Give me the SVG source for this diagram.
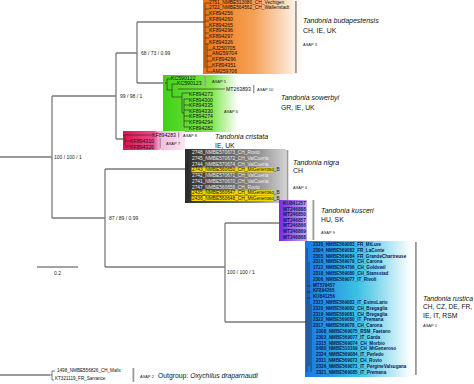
<svg xmlns="http://www.w3.org/2000/svg" width="474" height="384" viewBox="0 0 474 384">
<defs>
<linearGradient id="gOr" x1="0" y1="0" x2="1" y2="0"><stop offset="0" stop-color="#ee7412"/><stop offset="0.5" stop-color="#f6a055"/><stop offset="1" stop-color="#ffffff"/></linearGradient>
<linearGradient id="gGr" x1="0" y1="0" x2="1" y2="0"><stop offset="0" stop-color="#3fd016"/><stop offset="0.65" stop-color="#7fe64c"/><stop offset="1" stop-color="#ffffff"/></linearGradient>
<linearGradient id="gPk" x1="0" y1="0" x2="1" y2="0"><stop offset="0" stop-color="#e0124c"/><stop offset="0.5" stop-color="#ec4c8c"/><stop offset="0.6" stop-color="#f4bade"/><stop offset="1" stop-color="#fbe6f2"/></linearGradient>
<linearGradient id="gGy" x1="0" y1="0" x2="1" y2="0"><stop offset="0" stop-color="#2c2c2c"/><stop offset="0.7" stop-color="#8c8c8c"/><stop offset="1" stop-color="#d2d2d2"/></linearGradient>
<linearGradient id="gPu" x1="0" y1="0" x2="1" y2="0"><stop offset="0" stop-color="#7a28e6"/><stop offset="1" stop-color="#c9a4f6"/></linearGradient>
<linearGradient id="gBl" x1="0" y1="0" x2="1" y2="0"><stop offset="0" stop-color="#1a76e0"/><stop offset="0.5" stop-color="#3cc2e4"/><stop offset="1" stop-color="#ffffff"/></linearGradient>
</defs>
<style>
text{font-family:"Liberation Sans",Arial,sans-serif;}
.br{fill:none;stroke:#7a7a7a;stroke-width:1.3;}
.in{fill:none;stroke:#222;stroke-width:0.6;}
.bar{fill:#9a9a9a;}
.sup{font-size:5px;fill:#222;}
.sp{font-size:7px;font-style:italic;fill:#111;}
.ct{font-size:6.8px;fill:#111;}
.asap{font-size:4px;fill:#222;}
.lb{font-size:5.2px;fill:#111;}
.lw{font-size:4.8px;fill:#eee;}
.ly{font-size:4.8px;fill:#222;}
.lbl{font-size:4.6px;fill:#0a1a50;font-weight:bold;}
</style>

<g id="connectors">
<path class="br" d="M0 157H52M52 96V218M52 96H116M116 53V139M116 53H137M137 22V83M137 22H205M137 83H165M116 139H123M52 218H105M105 169V267M105 169H185M105 267H225M225 223V322M225 223H279M225 322H305M0 375H50"/>
</g>

<g id="support-labels">
<text class="sup" x="141" y="55">68 / 73 / 0.99</text>
<text class="sup" x="120" y="98">99 / 98 / 1</text>
<text class="sup" x="54" y="159">100 / 100 / 1</text>
<text class="sup" x="109" y="220">87 / 89 / 0.99</text>
<text class="sup" x="227" y="274">100 / 100 / 1</text>
</g>

<g id="scale">
<path d="M37 267H78" stroke="#333" stroke-width="0.9"/>
<text class="sup" x="57.5" y="275" text-anchor="middle">0.2</text>
</g>

<g id="clade-budapestensis">
<rect x="203" y="0" width="100" height="74" fill="url(#gOr)"/>
<path class="in" d="M203 22H205M205 3V68M205 3H209M205 9H209M205 15H209M205 21H209M205 27H209M205 33H209M205 38H209M205 44H209M207 44V72M207 50H212M207 56H212M207 61H212M207 67H212M207 72H212"/>
<g class="lb">
<text x="209" y="3.5" style="font-size:4.8px">2751_NMBE513080_CH_Vechigen</text>
<text x="209" y="9.3" style="font-size:4.8px">2722_NMBE564562_CH_Wallenstadt</text>
<text x="209" y="15">KF894256</text>
<text x="209" y="20.8">KF894260</text>
<text x="209" y="26.5">KF894265</text>
<text x="209" y="32.3">KF894296</text>
<text x="209" y="38">KF894297</text>
<text x="209" y="43.8">KF894326</text>
<text x="212" y="49.5">AJ250705</text>
<text x="212" y="55.3">AM259704</text>
<text x="212" y="61">KF894296</text>
<text x="212" y="66.8">KF894351</text>
<text x="212" y="72.5">AM259706</text>
</g>
<rect class="bar" x="295" y="1" width="1.8" height="72"/>
<text class="sp" x="303" y="22.5">Tandonia budapestensis</text>
<text class="ct" x="303" y="33">CH, IE, UK</text>
<text class="asap" x="303" y="45.5">ASAP 3</text>
</g>

<g id="clade-sowerbyi">
<rect x="163" y="75" width="75" height="57" fill="url(#gGr)"/>
<path class="in" d="M165 83H167M167 79V90M167 79H171M167 90H172M172 84V97M172 84H177M172 97H182M178 89H225M182 93V113M182 93H189M182 113H184M184 99V127M184 99H189M184 105H189M184 110H189M184 116H189M184 121H189M184 127H189"/>
<g class="lb">
<text x="171" y="80">KC590122</text>
<text x="177" y="85">KC590123</text>
<text x="189" y="96">KF894273</text>
<text x="189" y="101.6">KF894300</text>
<text x="189" y="107.2">KF894335</text>
<text x="189" y="112.8">KF894330</text>
<text x="189" y="118.4">KF894274</text>
<text x="189" y="124">KF894294</text>
<text x="189" y="129.6">KF894282</text>
<text x="226" y="91">MT263893</text>
</g>
<rect class="bar" x="253" y="85" width="1.4" height="8"/>
<text class="asap" x="257" y="90.5">ASAP 10</text>
<rect class="bar" x="204.5" y="76" width="1.4" height="10"/>
<text class="asap" x="212" y="82.5">ASAP 5</text>
<text class="asap" x="224" y="112.5">ASAP 6</text>
<text class="sp" x="281" y="99.5">Tandonia sowerbyi</text>
<text class="ct" x="281" y="110">GR, IE, UK</text>
</g>

<g id="clade-cristata">
<rect x="123" y="131" width="62" height="19" fill="url(#gPk)"/>
<path class="in" d="M123 135H152M125 135V145M125 141H130M125 146H130"/>
<g class="lb">
<text x="152" y="137">KF894283</text>
<text x="130" y="143">KF894310</text>
<text x="130" y="148.5">KF894326</text>
</g>
<rect class="bar" x="178" y="132.5" width="1.3" height="5"/>
<text class="asap" x="183" y="136.5">ASAP 8</text>
<rect class="bar" x="159.5" y="138" width="1.4" height="10"/>
<text class="asap" x="166" y="145">ASAP 7</text>
<text class="sp" x="215" y="138.5">Tandonia cristata</text>
<text class="ct" x="215" y="148">IE, UK</text>
</g>

<g id="clade-nigra">
<rect x="185" y="149" width="101" height="54" fill="url(#gGy)"/>
<rect x="191.5" y="167.3" width="82" height="5" fill="#f2d600"/>
<rect x="191.5" y="190.3" width="82" height="5" fill="#f2d600"/>
<rect x="191.5" y="196" width="82" height="5" fill="#f2d600"/>
<path class="in" d="M185 169H188M188 153V199"/>
<text class="lw" x="192" y="154">2748_NMBE570673_CH_Rovio</text>
<text class="lw" x="192" y="159.8">2745_NMBE570672_CH_ValCuerta</text>
<text class="lw" x="192" y="165.5">2744_NMBE570674_CH_ValCuerta</text>
<text class="ly" x="192" y="171.3">2743_NMBE560650_CH_MtGeneroso_B</text>
<text class="lw" x="192" y="177">2742_NMBE570671_CH_ValCuerta</text>
<text class="lw" x="192" y="182.8">2741_NMBE570670_CH_ValCuerta</text>
<text class="lw" x="192" y="188.5">2747_NMBE560656_CH_Rovio</text>
<text class="ly" x="192" y="194.3">2435_NMBE560647_CH_MtGeneroso_B</text>
<text class="ly" x="192" y="200">2436_NMBE560648_CH_MtGeneroso_B</text>
<rect class="bar" x="286.5" y="150" width="1.8" height="52"/>
<text class="sp" x="293" y="164.5">Tandonia nigra</text>
<text class="ct" x="293" y="173">CH</text>
<text class="asap" x="293" y="188.5">ASAP 4</text>
</g>

<g id="clade-kusceri">
<rect x="279" y="200" width="28" height="41" fill="url(#gPu)"/>
<g class="lbl" style="font-size:4.8px">
<text x="283" y="205">KU841257</text>
<text x="283" y="210.6">MT246888</text>
<text x="283" y="216.2">MT246850</text>
<text x="283" y="221.8">MT246857</text>
<text x="283" y="227.4">MT246866</text>
<text x="283" y="233">MT246869</text>
<text x="283" y="238.6">MT246868</text>
</g>
<rect class="bar" x="312.5" y="200" width="1.8" height="40"/>
<text class="sp" x="321" y="212.5">Tandonia kusceri</text>
<text class="ct" x="321" y="222">HU, SK</text>
<text class="asap" x="321" y="233.5">ASAP 9</text>
</g>

<g id="clade-rustica">
<rect x="305" y="241" width="106" height="136" fill="url(#gBl)"/>
<path class="in" d="M305 322H307M307 248V372M307 286H311M307 292H311M307 298H311M309 262V366M311 304V372" stroke="#0b2a80"/>
<g class="lbl">
<text x="313" y="246">2320_NMBE569083_FR_MtLure</text>
<text x="313" y="251.8">2304_NMBE569082_FR_LaConte</text>
<text x="313" y="257.6">2305_NMBE569084_FR_GrandeChartreuse</text>
<text x="313" y="263.4">2316_NMBE569079_CH_Carona</text>
<text x="313" y="269.2">1722_NMBE564706_CH_Goldswil</text>
<text x="313" y="275">2318_NMBE569080_CH_Stansstad</text>
<text x="313" y="280.8">2306_NMBE569077_IT_Rivoli</text>
<text x="313" y="286.6">MT579457</text>
<text x="313" y="292.4">KF894265</text>
<text x="313" y="298.2">KU841256</text>
<text x="313" y="304">2323_NMBE569083_IT_EsinoLario</text>
<text x="313" y="309.8">2320_NMBE569082_CH_Bregaglia</text>
<text x="313" y="315.6">2319_NMBE569081_CH_Bregaglia</text>
<text x="313" y="321.4">2322_NMBE569080_IT_Premana</text>
<text x="313" y="327.2">2317_NMBE569078_CH_Carona</text>
<text x="316" y="333">2308_NMBE569075_RSM_Faetano</text>
<text x="316" y="338.8">2303_NMBE569077_IT_Garda</text>
<text x="316" y="344.6">2315_NMBE569074_CH_Morbio</text>
<text x="316" y="350.4">0480_NMBE510169_CH_MtGeneroso</text>
<text x="316" y="356.2">2324_NMBE569084_IT_Perledo</text>
<text x="316" y="362">2311_NMBE569073_CH_Rovio</text>
<text x="316" y="367.8">2326_NMBE569071_IT_PergineValsugana</text>
<text x="316" y="373.6">2321_NMBE569085_IT_Premana</text>
</g>
<rect class="bar" x="415" y="242" width="1.8" height="133"/>
<text class="sp" x="423" y="300.5" textLength="50" lengthAdjust="spacingAndGlyphs">Tandonia rustica</text>
<text class="ct" x="423" y="309" textLength="49" lengthAdjust="spacingAndGlyphs">CH, CZ, DE, FR,</text>
<text class="ct" x="423" y="317.5">IE, IT, RSM</text>
<text class="asap" x="423" y="327">ASAP 1</text>
</g>

<g id="outgroup">
<path class="in" d="M50 375H52M52 371V380M52 371H55M52 380H54"/>
<text class="lb" x="57" y="372" style="font-size:4.6px">1498_NMBE556826_CH_Malix</text>
<text class="lb" x="55" y="380" style="font-size:4.6px">KT321119_FR_Sarrance</text>
<rect class="bar" x="132.5" y="368" width="1.8" height="14"/>
<text class="asap" x="140" y="377.5">ASAP 2</text>
<text class="ct" x="158" y="378">Outgroup: <tspan font-style="italic">Oxychilus draparnaudi</tspan></text>
</g>
</svg>
